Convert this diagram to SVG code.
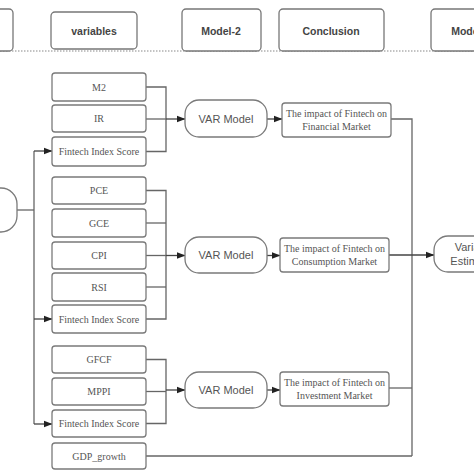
<svg xmlns="http://www.w3.org/2000/svg" width="474" height="474" viewBox="0 0 474 474">
<defs>
<marker id="ah" markerWidth="9" markerHeight="8" refX="8.5" refY="4" orient="auto" markerUnits="userSpaceOnUse">
<path d="M0,0.5 L9,4 L0,7.5 Z" fill="#222"/>
</marker>
<style>
.hb{fill:#fff;stroke:#777;stroke-width:1.3}
.ht{font-family:"Liberation Sans",Arial,sans-serif;font-size:10.5px;font-weight:bold;fill:#444;text-anchor:middle}
.vb{fill:#fff;stroke:#7a7a7a;stroke-width:1.3}
.vt{font-family:"Liberation Serif","Times New Roman",serif;font-size:10px;fill:#555;text-anchor:middle}
.mt{font-family:"Liberation Sans",Arial,sans-serif;font-size:11px;fill:#555;text-anchor:middle}
.ln{fill:none;stroke:#666;stroke-width:1.3}
.ar{fill:none;stroke:#444;stroke-width:1.3;marker-end:url(#ah)}
</style>
</defs>
<rect width="474" height="474" fill="#fff"/>

<g id="header">
<line x1="0" y1="51" x2="474" y2="51" stroke="#888" stroke-width="1.2" stroke-dasharray="1.5,1.5"/>
<g id="h0"><rect class="hb" x="-12" y="9" width="25" height="42" rx="4"/></g>
<g id="h-variables"><rect class="hb" x="51" y="12" width="86" height="37" rx="4"/><text class="ht" x="94" y="35">variables</text></g>
<g id="h-model2"><rect class="hb" x="182" y="9" width="79" height="42" rx="4"/><text class="ht" x="221" y="35">Model-2</text></g>
<g id="h-conclusion"><rect class="hb" x="279" y="9" width="105" height="42" rx="4"/><text class="ht" x="331" y="35">Conclusion</text></g>
<g id="h-model"><rect class="hb" x="431" y="9" width="80" height="42" rx="4"/><text class="ht" x="471" y="35">Model-3</text></g>
</g>

<g id="connectors">
<!-- left source -->
<polyline class="ln" points="17,210 34,210"/>
<polyline class="ln" points="34,151 34,424"/>
<polyline class="ar" points="34,151 52,151"/>
<polyline class="ar" points="34,319 52,319"/>
<polyline class="ar" points="34,424 52,424"/>
<!-- group 1 -->
<polyline class="ln" points="146,87 166,87 166,151.5 146,151.5"/>
<polyline class="ln" points="146,119 166,119"/>
<polyline class="ar" points="166,119 185,119"/>
<polyline class="ar" points="267,119 282,119"/>
<polyline class="ln" points="391,119 412,119 412,456"/>
<!-- group 2 -->
<polyline class="ln" points="146,190.5 166,190.5 166,319 146,319"/>
<polyline class="ln" points="146,223 166,223"/>
<polyline class="ln" points="146,255.5 166,255.5"/>
<polyline class="ln" points="146,287 166,287"/>
<polyline class="ar" points="166,255.5 185,255.5"/>
<polyline class="ar" points="267,255.5 280,255.5"/>
<polyline class="ar" points="389,255 434,255"/>
<!-- group 3 -->
<polyline class="ln" points="146,359.5 166,359.5 166,423.5 146,423.5"/>
<polyline class="ln" points="146,391.5 166,391.5"/>
<polyline class="ar" points="166,390 185,390"/>
<polyline class="ar" points="267,390 280,390"/>
<polyline class="ln" points="389,388 412,388"/>
<!-- GDP -->
<polyline class="ln" points="146,456 412,456"/>
</g>

<g id="source"><rect class="vb" x="-40" y="188" width="57" height="44" rx="16"/></g>

<g id="v-m2"><rect class="vb" x="52" y="73" width="94" height="28" rx="3"/><text class="vt" x="99" y="90.5">M2</text></g>
<g id="v-ir"><rect class="vb" x="52" y="105" width="94" height="27" rx="3"/><text class="vt" x="99" y="122">IR</text></g>
<g id="v-fis1"><rect class="vb" x="52" y="137" width="94" height="29" rx="3"/><text class="vt" x="99" y="155">Fintech Index Score</text></g>

<g id="v-pce"><rect class="vb" x="52" y="177" width="94" height="27" rx="3"/><text class="vt" x="99" y="194">PCE</text></g>
<g id="v-gce"><rect class="vb" x="52" y="209" width="94" height="28" rx="3"/><text class="vt" x="99" y="226.5">GCE</text></g>
<g id="v-cpi"><rect class="vb" x="52" y="242" width="94" height="27" rx="3"/><text class="vt" x="99" y="259">CPI</text></g>
<g id="v-rsi"><rect class="vb" x="52" y="273" width="94" height="28" rx="3"/><text class="vt" x="99" y="290.5">RSI</text></g>
<g id="v-fis2"><rect class="vb" x="52" y="305" width="94" height="28" rx="3"/><text class="vt" x="99" y="322.5">Fintech Index Score</text></g>

<g id="v-gfcf"><rect class="vb" x="52" y="346" width="94" height="27" rx="3"/><text class="vt" x="99" y="363">GFCF</text></g>
<g id="v-mppi"><rect class="vb" x="52" y="378" width="94" height="27" rx="3"/><text class="vt" x="99" y="395">MPPI</text></g>
<g id="v-fis3"><rect class="vb" x="52" y="410" width="94" height="27" rx="3"/><text class="vt" x="99" y="427">Fintech Index Score</text></g>
<g id="v-gdp"><rect class="vb" x="52" y="443" width="94" height="26" rx="3"/><text class="vt" x="99" y="459.5">GDP_growth</text></g>

<g id="var1"><rect class="vb" x="185" y="100" width="82" height="37" rx="14"/><text class="mt" x="226" y="123">VAR Model</text></g>
<g id="var2"><rect class="vb" x="185" y="237" width="82" height="36" rx="14"/><text class="mt" x="226" y="259">VAR Model</text></g>
<g id="var3"><rect class="vb" x="185" y="372" width="82" height="36" rx="14"/><text class="mt" x="226" y="394">VAR Model</text></g>

<g id="imp1"><rect class="vb" x="282" y="103" width="109" height="34" rx="3"/><text class="vt" x="336.5" y="117">The impact of Fintech on</text><text class="vt" x="336.5" y="130">Financial Market</text></g>
<g id="imp2"><rect class="vb" x="280" y="238" width="109" height="34" rx="3"/><text class="vt" x="334.5" y="252">The impact of Fintech on</text><text class="vt" x="334.5" y="265">Consumption Market</text></g>
<g id="imp3"><rect class="vb" x="280" y="372" width="109" height="34" rx="3"/><text class="vt" x="334.5" y="386">The impact of Fintech on</text><text class="vt" x="334.5" y="399">Investment Market</text></g>

<g id="variance"><rect class="vb" x="434" y="236" width="90" height="36" rx="14"/><text class="mt" x="476" y="251">Variance</text><text class="mt" x="476" y="265">Estimation</text></g>
</svg>
